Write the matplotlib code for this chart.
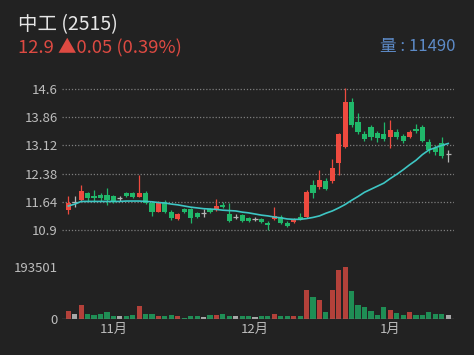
import numpy as np
import matplotlib.pyplot as plt

plt.rcParams['font.family'] = ['Noto Sans CJK TC', 'DejaVu Sans']

# daily candles (Oct -> Jan)
opens = [11.43, 11.64, 11.69, 11.88, 11.78, 11.82, 11.82, 11.78, 11.75, 11.86,
         11.86, 11.77, 11.86, 11.62, 11.38, 11.64, 11.38, 11.18, 11.44, 11.44,
         11.34, 11.34, 11.44, 11.42, 11.56, 11.32, 11.25, 11.29, 11.21, 11.18,
         11.19, 11.09, 11.18, 11.25, 11.09, 11.12, 11.25, 11.25, 12.08, 12.04,
         12.19, 12.19, 12.65, 13.09, 14.27, 13.74, 13.42, 13.61, 13.45, 13.42,
         13.35, 13.47, 13.37, 13.35, 13.54, 13.59, 13.20, 13.06, 13.19, 12.90]
highs = [11.79, 11.80, 12.08, 11.91, 11.95, 11.87, 12.00, 11.82, 11.79, 11.90,
         11.90, 12.34, 11.92, 11.66, 11.66, 11.69, 11.42, 11.35, 11.48, 11.48,
         11.37, 11.45, 11.48, 11.71, 11.64, 11.61, 11.32, 11.32, 11.24, 11.24,
         11.21, 11.14, 11.51, 11.29, 11.14, 11.21, 11.35, 11.95, 12.21, 12.47,
         12.26, 12.76, 13.45, 14.62, 14.36, 13.98, 13.50, 13.66, 13.50, 13.74,
         13.79, 13.55, 13.42, 13.52, 13.68, 13.66, 13.29, 13.13, 13.34, 13.00]
lows = [11.32, 11.50, 11.67, 11.65, 11.65, 11.66, 11.56, 11.61, 11.67, 11.76,
        11.74, 11.77, 11.58, 11.28, 11.37, 11.35, 11.16, 11.16, 11.35, 11.08,
        11.21, 11.24, 11.35, 11.40, 11.47, 11.11, 11.19, 11.11, 11.11, 11.14,
        11.08, 10.90, 11.16, 11.06, 10.98, 11.08, 11.16, 11.21, 11.74, 11.98,
        11.95, 12.13, 12.34, 13.05, 13.60, 13.42, 13.24, 13.26, 13.21, 13.24,
        13.04, 13.29, 13.18, 13.31, 13.45, 13.21, 12.92, 12.87, 12.79, 12.69]
closes = [11.60, 11.64, 11.93, 11.73, 11.73, 11.73, 11.69, 11.64, 11.75, 11.79,
          11.77, 11.86, 11.60, 11.38, 11.62, 11.38, 11.21, 11.32, 11.38, 11.21,
          11.23, 11.34, 11.38, 11.53, 11.50, 11.14, 11.25, 11.14, 11.14, 11.18,
          11.12, 11.03, 11.28, 11.08, 11.01, 11.18, 11.19, 11.91, 11.86, 12.21,
          11.97, 12.52, 13.42, 14.27, 13.66, 13.48, 13.29, 13.35, 13.31, 13.29,
          13.52, 13.35, 13.24, 13.48, 13.50, 13.24, 13.00, 12.94, 12.85, 12.90]
ma20 = [11.53, 11.58, 11.65, 11.65, 11.65, 11.65, 11.65, 11.65, 11.65, 11.66,
        11.66, 11.66, 11.65, 11.64, 11.62, 11.61, 11.58, 11.56, 11.53, 11.50,
        11.48, 11.46, 11.45, 11.44, 11.42, 11.41, 11.40, 11.37, 11.35, 11.32,
        11.29, 11.27, 11.24, 11.22, 11.19, 11.18, 11.18, 11.20, 11.23, 11.27,
        11.34, 11.40, 11.48, 11.57, 11.68, 11.78, 11.89, 11.97, 12.05, 12.13,
        12.25, 12.36, 12.48, 12.61, 12.73, 12.88, 13.00, 13.06, 13.12, 13.17]
volumes = [27500, 16200, 49900, 18700, 15000, 16200, 23700, 11200, 11200, 8700,
           12500, 46200, 18700, 18700, 8700, 8700, 12500, 8700, 3700, 10000,
           8700, 6200, 12500, 15000, 16200, 8700, 11200, 8700, 11200, 6200,
           8700, 11200, 16200, 8700, 8700, 8700, 8700, 108600, 81100, 68700,
           26000, 107000, 181000, 193501, 103600, 52400, 43700, 28700, 15000, 45000,
           33700, 22000, 15000, 25000, 15000, 15000, 25000, 15600, 18700, 11490]
month_pos = [7, 29, 50]
month_labels = ['11月', '12月', '1月']
price_ticks = [10.9, 11.64, 12.38, 13.12, 13.86, 14.6]

bg = '#222222'
up_c, down_c, flat_c = '#ee4a3f', '#20b86a', '#b5b5b5'
vup_c, vdown_c, vflat_c = '#b3413a', '#1f8e55', '#a8a8a8'
txt_c = '#bdbdbd'

W, H = 474, 355
fig = plt.figure(figsize=(W / 100, H / 100), dpi=100, facecolor=bg)
ax = fig.add_axes([62 / W, 1 - 240 / H, 392 / W, 160 / H], facecolor=bg)
axv = fig.add_axes([62 / W, 1 - 318.5 / H, 392 / W, 56.5 / H], facecolor=bg)

n = len(closes)
x = np.arange(n)
o = np.array(opens)
c = np.array(closes)
cols = np.where(c > o, up_c, np.where(c < o, down_c, flat_c))
vcols = np.where(c > o, vup_c, np.where(c < o, vdown_c, vflat_c))

ax.vlines(x, lows, highs, colors=cols, linewidth=0.9, zorder=3)
body = np.abs(c - o)
ax.bar(x, body, bottom=np.minimum(o, c), width=0.8, color=cols, zorder=4)
flat = c == o
ax.hlines(c[flat], x[flat] - 0.4, x[flat] + 0.4, colors=flat_c, linewidth=0.9, zorder=4)
ax.plot(x, ma20, color='#3ec6c4', linewidth=1.2, zorder=5)

ax.set_xlim(-0.98, 59.9)
ax.set_ylim(10.638, 14.836)
ax.set_yticks(price_ticks)
ax.set_yticklabels([f'{t:g}' for t in price_ticks])
ax.grid(axis='y', color='#7e7e7e', linestyle=(0, (1, 1.5)), linewidth=0.9)
ax.set_xticks([])
ax.tick_params(axis='y', length=0, pad=3, labelsize=9.5, labelcolor=txt_c)
for s in ax.spines.values():
    s.set_visible(False)

axv.bar(x, volumes, width=0.8, color=vcols)
axv.axhline(0, color='#8a8a8a', linewidth=0.9)
axv.set_xlim(-0.98, 59.9)
axv.set_ylim(0, 193501 * 56.5 / 51.6)
axv.set_yticks([0, 193501])
axv.set_yticklabels(['0', '193501'])
axv.set_xticks(month_pos)
axv.set_xticklabels(month_labels)
axv.tick_params(length=0, pad=3, labelsize=9.5, labelcolor=txt_c)
for s in axv.spines.values():
    s.set_visible(False)

fig.text(18 / W, 1 - 25 / H, '中工 (2515)', color='#e6e6e6', fontsize=14, va='center', ha='left')
fig.text(18 / W, 1 - 47 / H, '12.9 ▲0.05 (0.39%)', color='#dd4a42', fontsize=13.3,
         va='center', ha='left')
fig.text(455 / W, 1 - 47 / H, '量 : 11490', color='#5d8bc8', fontsize=12, va='center', ha='right')

fig.savefig('out.png', dpi=100, facecolor=bg)
